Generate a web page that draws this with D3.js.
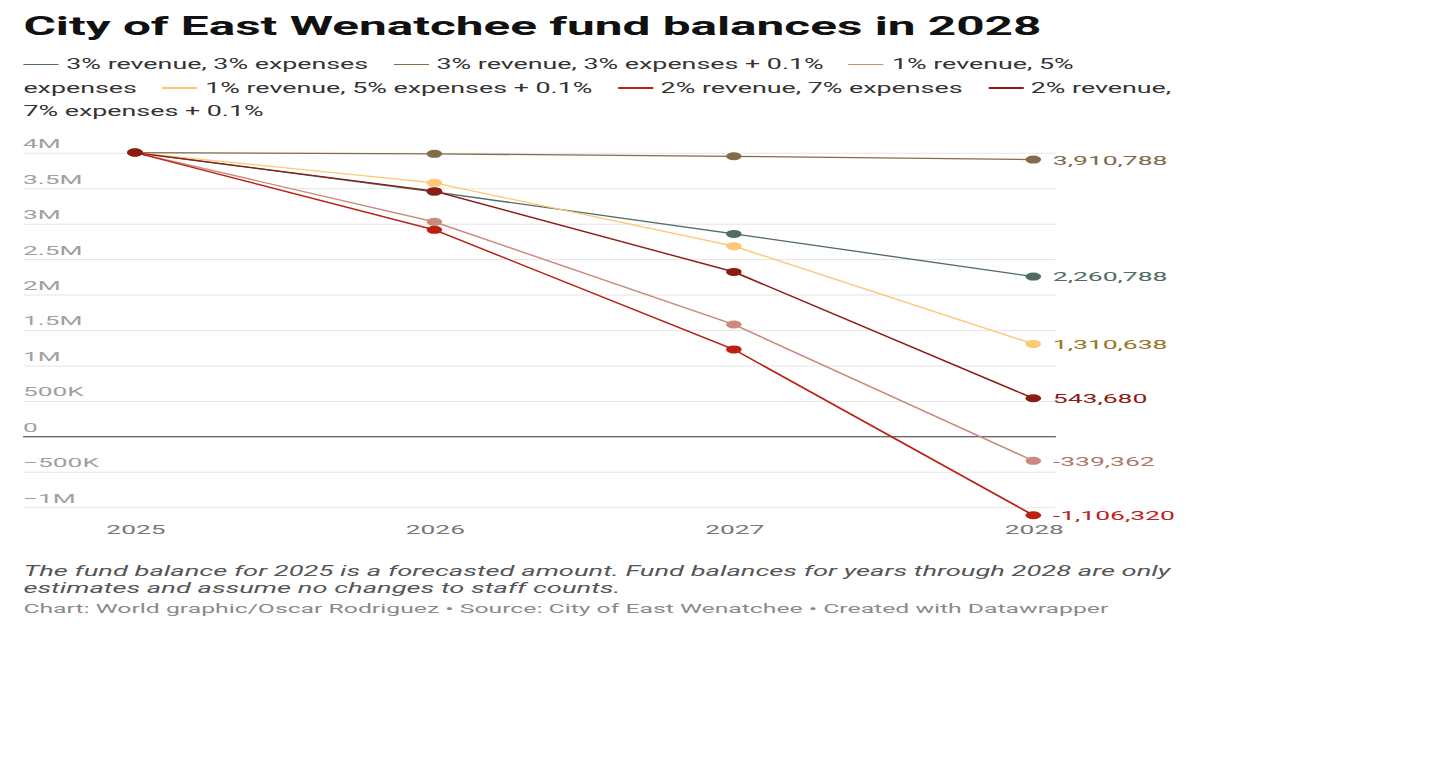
<!DOCTYPE html>
<head>
  <meta charset="utf-8">
  <style>
    body { margin: 0; background: #fff; }
    #wrap {
      position: absolute; left: 0; top: 0;
      width: 740px; height: 758px;
      transform: scaleX(1.95); transform-origin: 0 0;
      font-family: Roboto, sans-serif;
    }
    #legend {
      position: absolute; left: 12px; top: 53px; width: 600px;
      font-size: 13.75px; line-height: 23.5px; color: #333;
    }
    .item { margin-right: 13px; }
    .swatch {
      display: inline-block; width: 18px; height: 1.5px;
      margin-right: 4px;
      vertical-align: middle; position: relative; top: -1px;
    }
  </style>
</head>
<body>
<div id="wrap">
  <svg id="chart" width="740" height="758" style="position:absolute;left:0;top:0" font-family="Roboto, sans-serif"></svg>
  <div id="legend"></div>
</div>
<script src="https://d3js.org/d3.v7.min.js"></script>
<script>

// data
var years = [2025, 2026, 2027, 2028];
var seriesNames = [
  "3% revenue, 3% expenses",
  "3% revenue, 3% expenses + 0.1%",
  "1% revenue, 5% expenses",
  "1% revenue, 5% expenses + 0.1%",
  "2% revenue, 7% expenses",
  "2% revenue, 7% expenses + 0.1%"
];
var rev3exp3 = [4010788, 3456000, 2863000, 2260788];
var rev3exp3plus = [4010788, 3992000, 3958000, 3910788];
var rev1exp5 = [4010788, 3033000, 1585000, -339362];
var rev1exp5plus = [4010788, 3583000, 2690000, 1310638];
var rev2exp7 = [4010788, 2920000, 1233000, -1106320];
var rev2exp7plus = [4010788, 3466000, 2327000, 543680];
var yTicks = [4000000, 3500000, 3000000, 2500000, 2000000, 1500000, 1000000, 500000, 0, -500000, -1000000];
var yTickLabels = ["4M", "3.5M", "3M", "2.5M", "2M", "1.5M", "1M", "500K", "0", "\u2212500K", "\u22121M"];

var lineColors = ["#4f6b64", "#846c4b", "#c98b7c", "#fdc875", "#bb2013", "#8c1b12"];
var labelColors = ["#4f6b64", "#7f6a4c", "#b07868", "#9a7620", "#c0201a", "#8c1b12"];

var allSeries = [rev3exp3, rev3exp3plus, rev1exp5, rev1exp5plus, rev2exp7, rev2exp7plus];

var svg = d3.select("#chart");

svg.append("text")
    .attr("x", 12).attr("y", 35)
    .attr("font-size", 25.4).attr("font-weight", 700)
    .attr("fill", "#111")
    .text("City of East Wenatchee fund balances in 2028");

// legend (html so it wraps like the original)
var legend = d3.select("#legend");
seriesNames.forEach(function(name, i) {
  var it = legend.append("span").attr("class", "item");
  it.append("span").attr("class", "swatch").style("background", lineColors[i]);
  it.append("span").text(name);
});

var x = d3.scaleLinear().domain([2025, 2028]).range([69.2, 529.9]);
var y = d3.scaleLinear().domain([-1000000, 4000000]).range([507.7, 153.3]);
var left = 11.8, right = 541.5;

var grid = svg.append("g");
grid.selectAll("line")
    .data(yTicks)
  .enter().append("line")
    .attr("x1", left).attr("x2", right)
    .attr("y1", function(d) { return y(d); })
    .attr("y2", function(d) { return y(d); })
    .attr("stroke", function(d) { return d === 0 ? "#333" : "#e6e6e6"; })
    .attr("stroke-width", 1);

grid.selectAll("text")
    .data(yTicks)
  .enter().append("text")
    .attr("x", left)
    .attr("y", function(d) { return y(d) - 5; })
    .attr("font-size", 13.5)
    .attr("fill", "#a0a0a0")
    .text(function(d, i) { return yTickLabels[i]; });

var xAxis = d3.axisBottom(x)
    .tickValues(years)
    .tickFormat(d3.format("d"))
    .tickSize(0)
    .tickPadding(0);
var xg = svg.append("g")
    .attr("transform", "translate(0,522)")
    .call(xAxis);
xg.select(".domain").remove();
xg.selectAll("text")
    .attr("font-family", "Roboto, sans-serif")
    .attr("font-size", 13.5)
    .attr("fill", "#777")
    .attr("dy", "0.9em");

var line = d3.line()
    .x(function(d, i) { return x(years[i]); })
    .y(function(d) { return y(d); });

var series = svg.selectAll(".series")
    .data(allSeries)
  .enter().append("g")
    .attr("class", "series");

series.append("path")
    .attr("d", line)
    .attr("fill", "none")
    .attr("stroke", function(d, i) { return lineColors[i]; })
    .attr("stroke-width", 1.3);

series.selectAll("circle")
    .data(function(d, i) { return d.map(function(v) { return {v: v, c: lineColors[i]}; }); })
  .enter().append("circle")
    .attr("cx", function(d, i) { return x(years[i]); })
    .attr("cy", function(d) { return y(d.v); })
    .attr("r", 4)
    .attr("fill", function(d) { return d.c; });

var fmt = d3.format(",");
series.append("text")
    .attr("x", x(2028) + 10)
    .attr("y", function(d) { return y(d[3]); })
    .attr("dy", "0.36em")
    .attr("font-size", 13.6)
    .attr("fill", function(d, i) { return labelColors[i]; })
    .text(function(d) { return fmt(d[3]).replace("\u2212", "-"); });

// notes
var notes = svg.append("g").attr("font-size", 14);
notes.append("text")
    .attr("x", 12).attr("y", 576)
    .attr("font-style", "italic").attr("fill", "#555")
    .text("The fund balance for 2025 is a forecasted amount. Fund balances for years through 2028 are only");
notes.append("text")
    .attr("x", 12).attr("y", 593)
    .attr("font-style", "italic").attr("fill", "#555")
    .text("estimates and assume no changes to staff counts.");
notes.append("text")
    .attr("x", 12).attr("y", 613)
    .attr("font-size", 12.7).attr("fill", "#8a8a8a")
    .text("Chart: World graphic/Oscar Rodriguez \u2022 Source: City of East Wenatchee \u2022 Created with Datawrapper");

</script>
</body>
